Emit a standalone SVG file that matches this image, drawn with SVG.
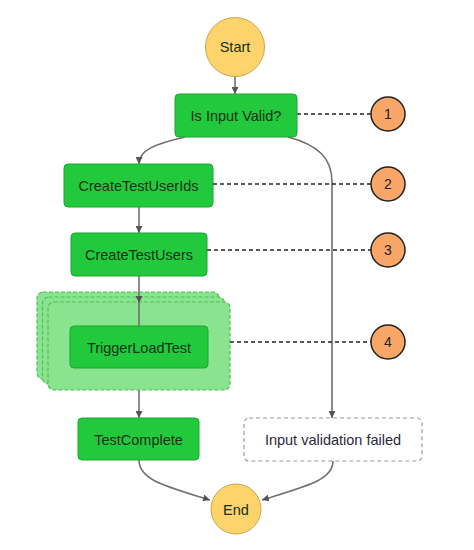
<svg xmlns="http://www.w3.org/2000/svg" width="474" height="550" viewBox="0 0 474 550">
<defs>
<style>
text{font-family:"Liberation Sans",Arial,sans-serif;font-size:14.5px;fill:#16301a;text-anchor:middle;dominant-baseline:central}
.task{fill:#22c93c;stroke:#1ba632;stroke-width:1}
.term{fill:#fdd46c;stroke:#caa550;stroke-width:1}
.num{fill:#f9a669;stroke:#222;stroke-width:1.5}
.num-t{fill:#222;font-size:14px}
.edge{fill:none;stroke:#707070;stroke-width:1.6}
.dash{fill:none;stroke:#222;stroke-width:1.6;stroke-dasharray:4,3}
.map{fill:#8ae38f;stroke:#4cc057;stroke-width:1.2;stroke-dasharray:4,2}
</style>
<marker id="ah" viewBox="0 0 10 10" refX="10" refY="5" markerWidth="7" markerHeight="7" orient="auto-start-reverse" markerUnits="userSpaceOnUse">
<path d="M0,0 L10,5 L0,10 z" fill="#555"/>
</marker>
</defs>
<rect width="474" height="550" fill="#fff"/>

<g id="map-bg">
<rect class="map" x="37" y="292" width="182" height="87" rx="6"/>
<rect class="map" x="42.5" y="297" width="182" height="87" rx="6"/>
<rect class="map" x="48" y="302" width="182" height="88" rx="6"/>
</g>

<g id="connectors">
<line class="edge" x1="235" y1="76" x2="235" y2="94" marker-end="url(#ah)"/>
<path class="edge" d="M185,137 C155,144 139,150 139,164" marker-end="url(#ah)"/>
<path class="edge" d="M288,137 C318,145 332,158 332,182 L332,418" marker-end="url(#ah)"/>
<line class="edge" x1="139" y1="207" x2="139" y2="233" marker-end="url(#ah)"/>
<line class="edge" x1="139" y1="276" x2="139" y2="303" marker-end="url(#ah)"/>
<line class="edge" x1="139" y1="303" x2="139" y2="326"/>
<line class="edge" x1="139" y1="390" x2="139" y2="418" marker-end="url(#ah)"/>
<path class="edge" d="M139,460 C139,480 165,486 210,500" marker-end="url(#ah)"/>
<path class="edge" d="M333,461 C333,480 307,486 262,500" marker-end="url(#ah)"/>
<line class="dash" x1="297" y1="114" x2="371" y2="114"/>
<line class="dash" x1="213" y1="184" x2="371" y2="184"/>
<line class="dash" x1="207" y1="250" x2="371" y2="250"/>
<line class="dash" x1="230" y1="342" x2="371" y2="342"/>
</g>

<g id="start"><circle class="term" cx="235" cy="47" r="29.5"/><text x="235" y="47">Start</text></g>
<g id="is-input-valid"><rect class="task" x="175" y="94" width="122" height="43" rx="4"/><text x="236" y="116">Is Input Valid?</text></g>
<g id="create-test-user-ids"><rect class="task" x="64" y="164" width="149" height="43" rx="4"/><text x="138.5" y="186">CreateTestUserIds</text></g>
<g id="create-test-users"><rect class="task" x="71" y="233" width="136" height="43" rx="4"/><text x="139" y="255">CreateTestUsers</text></g>
<g id="trigger-load-test"><rect class="task" x="70" y="326" width="138" height="42" rx="4"/><text x="139" y="348">TriggerLoadTest</text></g>
<g id="test-complete"><rect class="task" x="78" y="418" width="121" height="42" rx="4"/><text x="138.5" y="440">TestComplete</text></g>
<g id="input-validation-failed"><rect x="244" y="418" width="178" height="43" rx="5" fill="#fff" stroke="#9a9a9a" stroke-width="1.2" stroke-dasharray="4,3"/><text x="333" y="440" style="fill:#2a2a3a">Input validation failed</text></g>
<g id="end"><circle class="term" cx="236" cy="509" r="25"/><text x="236" y="510">End</text></g>

<g id="n1"><circle class="num" cx="388" cy="114" r="17"/><text class="num-t" x="388" y="114">1</text></g>
<g id="n2"><circle class="num" cx="388" cy="184" r="17"/><text class="num-t" x="388" y="184">2</text></g>
<g id="n3"><circle class="num" cx="388" cy="250" r="17"/><text class="num-t" x="388" y="250">3</text></g>
<g id="n4"><circle class="num" cx="388" cy="342" r="17"/><text class="num-t" x="388" y="342">4</text></g>
</svg>
